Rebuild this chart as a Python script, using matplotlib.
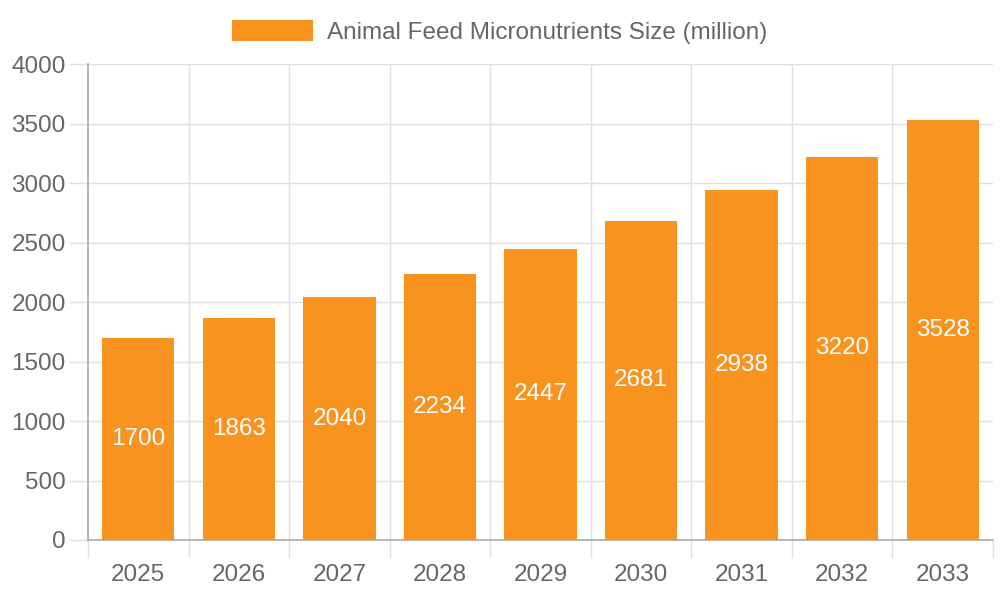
import matplotlib
matplotlib.use("Agg")
import matplotlib.pyplot as plt
from matplotlib.patches import Patch

plt.rcParams['font.family'] = ['Liberation Sans', 'DejaVu Sans']

years = ['2025', '2026', '2027', '2028', '2029', '2030', '2031', '2032', '2033']
values = [1700, 1863, 2040, 2234, 2447, 2681, 2938, 3220, 3528]
series_name = 'Animal Feed Micronutrients Size (million)'

bar_color = '#F7931E'
text_grey = '#666666'
grid_grey = '#E0E0E0'
axis_grey = '#A8A8A8'
fs = 17.5  # pt

fig = plt.figure(figsize=(10, 6), dpi=100)
ax = fig.add_axes([0.088, 0.1, 0.905, 0.7933])

x = list(range(len(years)))
ax.bar(x, values, width=0.72, color=bar_color, zorder=3)

for xi, v in zip(x, values):
    ax.text(xi, v / 2, str(v), ha='center', va='center', color='white',
            fontsize=fs, zorder=4)

ax.set_xlim(-0.5, len(years) - 0.5)
ax.set_ylim(0, 4000)
ax.set_yticks(range(0, 4001, 500))

# gridlines at category boundaries
for b in range(1, len(years)):
    ax.axvline(b - 0.5, color=grid_grey, lw=1, zorder=1)
for yv in range(500, 4001, 500):
    ax.axhline(yv, color=grid_grey, lw=1, zorder=1)

ax.set_xticks([b - 0.5 for b in range(len(years) + 1)], minor=False)
ax.set_xticklabels([''] * (len(years) + 1))
ax.set_xticks(x, minor=True)
ax.set_xticklabels(years, minor=True)
ax.tick_params(axis='x', which='major', length=13, color=grid_grey, width=1)
ax.tick_params(axis='x', which='minor', length=0, pad=17, labelsize=fs,
               labelcolor=text_grey)
ax.tick_params(axis='y', length=14, color=grid_grey, width=1, pad=2,
               labelsize=fs, labelcolor=text_grey)

for side in ['top', 'right']:
    ax.spines[side].set_visible(False)
for side in ['left', 'bottom']:
    ax.spines[side].set_color(axis_grey)
    ax.spines[side].set_linewidth(1.2)
    ax.spines[side].set_zorder(5)

handle = Patch(facecolor=bar_color, edgecolor='none')
fig.legend([handle], [series_name], loc='center', bbox_to_anchor=(0.5, 0.947),
           frameon=False, fontsize=fs, labelcolor=text_grey,
           handlelength=3.3, handleheight=1.0, handletextpad=0.6)

fig.savefig('out.png', dpi=100)
